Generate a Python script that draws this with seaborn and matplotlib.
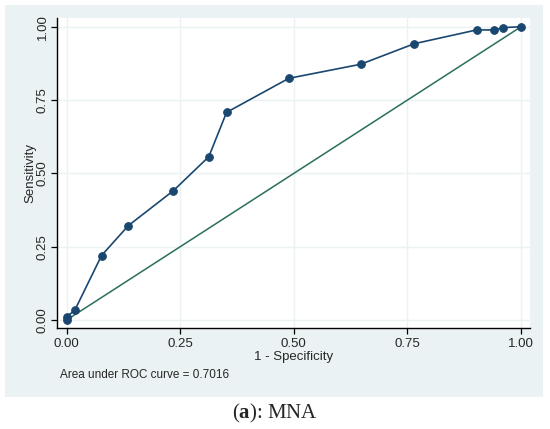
import pandas as pd
import numpy as np
import matplotlib
matplotlib.use("Agg")
import matplotlib.pyplot as plt
import seaborn as sns
from matplotlib.patches import Rectangle

# ROC points
fpr = [0.0, 0.0, 0.018, 0.077, 0.136, 0.235, 0.313, 0.352, 0.489, 0.647, 0.765, 0.902, 0.941, 0.961, 1.0]
tpr = [0.0, 0.011, 0.033, 0.220, 0.322, 0.441, 0.557, 0.708, 0.824, 0.872, 0.942, 0.989, 0.989, 0.997, 1.0]
ref_x = [0.0, 1.0]
ref_y = [0.0, 1.0]
ticks = [0.0, 0.25, 0.50, 0.75, 1.00]
tick_labels = ["0.00", "0.25", "0.50", "0.75", "1.00"]
auc_text = "Area under ROC curve = 0.7016"

sns.set_style("white")
plt.rcParams['font.family'] = ['Liberation Sans', 'DejaVu Sans']
plt.rcParams['mathtext.fontset'] = 'custom'
plt.rcParams['mathtext.rm'] = 'Liberation Serif'
plt.rcParams['mathtext.bf'] = 'Liberation Serif:bold'

navy = '#1a476f'
green = '#2a6e5c'
bg = '#eaf2f3'

fig = plt.figure(figsize=(5.5, 4.29), dpi=100)
fig.patch.set_facecolor('white')
# Stata style graph region
fig.patches.append(Rectangle((5/550, 1-397/429), 538/550, 392/429,
                             transform=fig.transFigure, facecolor=bg,
                             edgecolor='none', zorder=-10))

ax = fig.add_axes([57/550, 1-328/429, 473/550, 310/429])
ax.set_zorder(1)
ax.set_facecolor('white')

df = pd.DataFrame({'fpr': fpr, 'tpr': tpr})
ref = pd.DataFrame({'x': ref_x, 'y': ref_y})

sns.lineplot(data=ref, x='x', y='y', ax=ax, color=green, linewidth=1.1,
             estimator=None, sort=False)
sns.lineplot(data=df, x='fpr', y='tpr', ax=ax, color=navy, linewidth=1.2,
             marker='o', markersize=5.5, markeredgecolor=navy,
             estimator=None, sort=False)

ax.set_xlim(-0.021, 1.0196)
ax.set_ylim(-0.027, 1.0297)
ax.set_xticks(ticks)
ax.set_xticklabels(tick_labels, fontsize=9.5)
ax.set_yticks(ticks)
ax.set_yticklabels(tick_labels, fontsize=9.5, rotation=90, va='center')
ax.grid(True, color=bg, linewidth=1.0)
ax.set_axisbelow(True)

for s in ['top', 'right']:
    ax.spines[s].set_visible(False)
for s in ['left', 'bottom']:
    ax.spines[s].set_color('black')
    ax.spines[s].set_linewidth(1.0)
ax.tick_params(axis='both', direction='out', length=4, width=0.9,
               color='black', left=True, bottom=True)
ax.tick_params(axis='x', pad=3)
ax.tick_params(axis='y', pad=2)

ax.set_xlabel('1 - Specificity', fontsize=9.5, labelpad=1)
ax.set_ylabel('Sensitivity', fontsize=9.5, labelpad=0)

fig.text(60/550, 1-375/429, auc_text, fontsize=8.5, va='center', ha='left')
fig.text(0.5, 1-413/429, r"($\mathbf{a}$): MNA", fontsize=15, ha='center',
         va='center', family='Liberation Serif')

fig.savefig('out.png', dpi=100)
